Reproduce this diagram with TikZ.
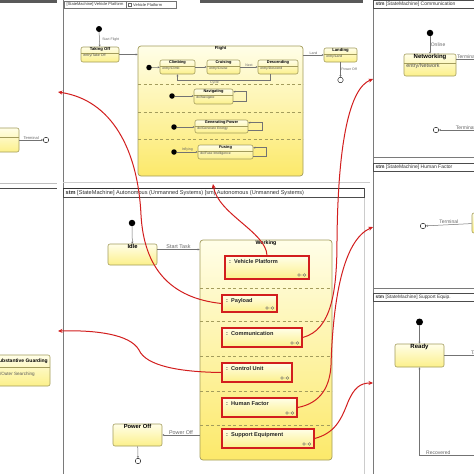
\documentclass[tikz,border=0pt]{standalone}
\usepackage{fontspec}
\setmainfont{Liberation Sans}
\usetikzlibrary{fit,arrows.meta,calc}
\definecolor{bord}{HTML}{A39C5C}
\definecolor{redl}{HTML}{D21E1E}
\definecolor{ylt}{HTML}{FFFEE8}
\definecolor{ydk}{HTML}{FCF08A}
\definecolor{ycd}{HTML}{FCE96A}
\definecolor{frm}{HTML}{7A7A7A}
\newcommand{\myfs}[1]{\fontsize{#1}{#1}\selectfont}
\def\tsz{4}\def\bsz{3.6}\def\lsz{3.5}
\tikzset{
 st/.style={draw=bord, line width=0.6pt, rounded corners=2pt, top color=ylt, bottom color=ydk, inner sep=0pt},
 comp/.style={draw=bord, line width=0.7pt, rounded corners=3pt, top color=ylt, bottom color=ycd, inner sep=0pt},
 sub/.style={draw=redl, line width=1.3pt, top color=ylt, bottom color=ydk, inner sep=0pt},
 ttl/.style={font=\myfs{\tsz}\bfseries, inner sep=0.6pt, anchor=north},
 bdy/.style={font=\myfs{\bsz}, inner sep=0.6pt, anchor=north west, text=black!70},
 subt/.style={font=\myfs{5.6}\bfseries, inner sep=0pt, text=black!85},
 lbl/.style={font=\myfs{\lsz}, inner sep=0.6pt, text=black!60},
 hdr/.style={font=\myfs{5}, inner sep=0.5pt, anchor=west, text=black!80},
 tr/.style={draw=black!55, line width=0.5pt, -{Stealth[length=2pt,width=2pt]}},
 init/.style={circle, fill=black, inner sep=0pt, minimum size=5.5pt},
 fin/.style={circle, draw=black, line width=0.4pt, fill=white, inner sep=0pt, minimum size=5.5pt,
   path picture={\fill (path picture bounding box.center) circle (1.4pt);}},
 divl/.style={draw=bord, line width=0.5pt},
 dashd/.style={draw=bord, line width=0.6pt, dash pattern=on 3pt off 2.5pt},
 redarr/.style={draw=redl, line width=1pt, -{Stealth[length=4.5pt,width=4pt]}},
}
% name, x1, y1, x2, y2, divider y, title, body
\newcommand{\twost}[8]{%
  \node[st, fit={(#2,#3) (#4,#5)}] (#1) {};
  \draw[divl] (#2,#6) -- (#4,#6);
  \node[ttl] at (#1.north) {#7};
  \node[bdy] at ({#2+1.5},#6) {#8};
}
% name, x1, y1, x2, y2, text
\newcommand{\subst}[6]{%
  \node[sub, fit={(#2,#3) (#4,#5)}] (#1) {};
  \node[subt, anchor=north west] at ({#2+4},{#3+3}) {:\ \ #6};
  \draw[black!60, line width=0.4pt] ({#4-10},{#5-4}) circle (1.4) ({#4-4.5},{#5-4}) circle (1.4)
     ({#4-8.6},{#5-4}) -- ({#4-5.9},{#5-4});
}
\begin{document}
\begin{tikzpicture}[x=1pt,y=-1pt]
\useasboundingbox (0,0) rectangle (474,474);
\fill[white] (0,0) rectangle (474,474);
\begin{scope}
\clip (0,0) rectangle (474,474);

% ---------- panel frames
\draw[frm, line width=0.9pt] (63,0) -- (63,474);
\fill[black!65] (0,0) rectangle (57,3);
\draw[black!25, line width=0.6pt] (0,183) -- (57,183);
\draw[black!70, line width=0.9pt] (0,188) -- (57,188);
\fill[black!65] (200,0) rectangle (363,2.5);
\draw[black!20, line width=0.6pt] (63,182) -- (370,182);
\draw[frm, line width=0.9pt] (373,0) -- (373,474);
\draw[frm, line width=0.8pt] (373,157) -- (474,157);
\draw[frm, line width=0.8pt] (373,288) -- (474,288);
\draw[black!20, line width=0.6pt] (364,197) -- (364,474);

% ---------- top-left panel
\def\tsz{4}\def\bsz{3.6}\def\lsz{4}
\twost{tlst}{-10}{128}{19}{152}{137}{}{}
\node[fin] (tlfin) at (46,140) {};
\draw[tr] (tlst) -- node[lbl, above]{Terminal} (tlfin);

% ---------- bottom-left panel
\def\tsz{5}\def\bsz{4.6}
\twost{blst}{-40}{355}{50}{386}{367}{}{}
\node[font=\myfs{5}\bfseries, inner sep=0pt, anchor=east] (bltitle) at (48,361) {Substantive Guarding};
\node[font=\myfs{4.6}, text=black!65, inner sep=0pt, anchor=east] (blbody) at (35,374) {do/Outer Searching};

% ---------- top-middle panel (Vehicle Platform)
\draw[black!55, fill=white, line width=0.4pt] (64,1) rectangle (126,8);
\draw[black!55, fill=white, line width=0.4pt] (126,1) rectangle (176,8);
\node[hdr, font=\myfs{4}] (tmtab1) at (66,4.6) {[StateMachine] Vehicle Platform};
\draw[black!60, line width=0.4pt] (128,2.8) rectangle (131.5,6.3);
\node[hdr, font=\myfs{4}] (tmtab2) at (132.5,4.6) {Vehicle Platform};
\def\tsz{4.2}\def\bsz{3.6}\def\lsz{3.5}
\node[init, minimum size=6pt] (tminit) at (99,29) {};
\twost{takeoff}{81}{47}{119}{62}{53}{Taking Off}{entry/Take Off}
\draw[tr] (tminit) -- node[lbl, right, xshift=2pt]{Start Flight} (takeoff);

\node[comp, fit={(138,46) (303,176)}] (flight) {};
\node[ttl] at (flight.north) {Flight};
\draw[tr] (takeoff.east) -- (takeoff.east -| flight.west);
\draw[dashd] (138,84) -- (303,84);
\draw[dashd] (138,112) -- (303,112);
\draw[dashd] (138,139) -- (303,139);

\def\tsz{3.9}\def\bsz{3.4}
\node[init] (fl1) at (149,67.5) {};
\twost{climbing}{160}{60}{195}{74}{66}{Climbing}{entry/Climb}
\twost{cruising}{207}{60}{240}{74}{66}{Cruising}{entry/Cruise}
\twost{descending}{258}{60}{298}{74}{66}{Descending}{entry/Descend}
\draw[tr] (fl1) -- (climbing);
\draw[tr] (climbing) -- (cruising);
\draw[tr] (cruising) -- node[lbl, above]{Next} (descending);
\draw[tr] ([xshift=-8pt]descending.south) -- ++(0,6) -| node[lbl, pos=0.3, below]{Cycle} (climbing.south);

\node[init] (fl2) at (172,96) {};
\twost{navigating}{194}{89}{233}{104}{95}{Navigating}{do/Navigate}
\draw[tr] (fl2) -- (fl2 -| navigating.west);
\draw[tr] ([yshift=3pt]navigating.south east) -- ++(13,0) |- ([yshift=-3pt]navigating.north east);

\node[init] (fl3) at (174,127) {};
\twost{genpower}{195}{120}{248}{133}{126}{Generating Power}{do/Generate Energy}
\draw[tr] (fl3) -- (fl3 -| genpower.west);
\draw[tr] ([yshift=3pt]genpower.south east) -- ++(14,0) |- ([yshift=-3pt]genpower.north east);

\node[init] (fl4) at (174,152) {};
\twost{fusing}{198}{145}{253}{159}{151}{Fusing}{do/Fuse Intelligence}
\draw[tr] (fl4) -- node[lbl, above]{Inflying} (fl4 -| fusing.west);
\draw[tr] ([yshift=3pt]fusing.south east) -- ++(13,0) |- ([yshift=-3pt]fusing.north east);

\def\tsz{4.2}
\twost{landing}{324}{48}{357}{62}{54}{Landing}{entry/Land}
\draw[tr] (flight.east |- landing) -- node[lbl, above]{Land} (landing);
\node[fin] (tmfin) at (340.5,80) {};
\draw[tr] (landing) -- node[lbl, right]{Power Off} (tmfin);

% ---------- bottom-middle panel (Autonomous)
\draw[black!70, fill=white, line width=0.5pt] (63,188) rectangle (364,197);
\draw[black!80, line width=1pt] (63,188) -- (364,188);
\node[hdr, font=\myfs{5.6}] (bmhdr) at (65,193) {\textbf{stm} [StateMachine] Autonomous (Unmanned Systems) [sm] Autonomous (Unmanned Systems)};
\def\tsz{5.8}\def\lsz{5.4}
\node[init, minimum size=6.5pt] (bminit) at (132,223) {};
\node[st, fit={(108,244) (157,265)}] (idle) {};
\node[ttl] at (idle.north) {Idle};
\draw[tr] (bminit) -- (idle);

\node[comp, fit={(200,240) (332,460)}] (working) {};
\node[ttl, font=\myfs{5.2}\bfseries] at (working.north) {Working};
\draw[tr] ([yshift=5pt]idle.east) -- node[lbl, above]{Start Task} ([yshift=5pt]idle.east -| working.west);
\foreach \yy in {288,321,356,391,425} \draw[dashd] (200,\yy) -- (332,\yy);

\subst{vp}{225}{256}{309}{279}{Vehicle Platform}
\subst{payload}{222}{295}{277}{312}{Payload}
\subst{comm}{222}{328}{302}{347}{Communication}
\subst{ctrl}{222}{363}{292}{382}{Control Unit}
\subst{human}{222}{398}{297}{417}{Human Factor}
\subst{support}{222}{429}{314}{448}{Support Equipment}

\node[st, fit={(113,424) (162,446)}] (poweroff) {};
\node[ttl] at (poweroff.north) {Power Off};
\draw[tr] (working.west |- poweroff) -- node[lbl, above]{Power Off} (poweroff);
\node[fin] (bmfin) at (138,461) {};
\draw[tr] (poweroff) -- (bmfin);

% ---------- right-top panel (Communication)
\draw[black!70, fill=white, line width=0.5pt] (373,0.5) rectangle (480,8.5);
\node[hdr] (rthdr) at (375,4.6) {\textbf{stm} [StateMachine] Communication};
\def\tsz{6}\def\bsz{5.4}\def\lsz{5}
\node[init, minimum size=6.5pt] (rtinit) at (430,33) {};
\twost{networking}{404}{54}{456}{76}{63}{Networking}{entry/Network}
\draw[tr] (rtinit) -- node[lbl, right]{Online} (networking);
\coordinate (rtout) at (482,59);
\draw[tr] ([yshift=6pt]networking.east) -- node[lbl, above, pos=0.4]{Terminal} (rtout);
\node[fin] (rtfin) at (436,130) {};
\coordinate (rtin) at (482,130);
\draw[tr] (rtin) -- node[lbl, above, pos=0.35]{Terminate} (rtfin);

% ---------- right-middle panel (Human Factor)
\draw[black!70, fill=white, line width=0.5pt] (373,163) rectangle (480,171);
\node[hdr] (rmhdr) at (375,167) {\textbf{stm} [StateMachine] Human Factor};
\node[fin] (rmfin) at (423,226) {};
\node[st, fit={(472,213) (495,233)}] (rmst) {};
\draw[tr] (rmst) -- node[lbl, above]{Terminal} (rmfin);

% ---------- right-bottom panel (Support Equipment)
\draw[black!70, fill=white, line width=0.5pt] (373,293) rectangle (480,301);
\node[hdr, font=\myfs{4.8}] (rbhdr) at (375,297) {\textbf{stm} [StateMachine] Support Equip.};
\node[init, minimum size=7pt] (rbinit) at (419.5,322) {};
\node[st, fit={(395,344) (444,367)}] (ready) {};
\node[ttl] at (ready.north) {Ready};
\draw[tr] (rbinit) -- (ready);
\coordinate (rbout) at (482,355.5);
\draw[tr] (ready) -- node[lbl, above, pos=0.85]{Task} (rbout);
\coordinate (rbin) at (482,455);
\draw[tr] (rbin) -| node[lbl, above, pos=0.35]{Recovered} (ready);

% ---------- red cross-reference arrows
\coordinate (a1) at (213,184);
\coordinate (a2) at (58,92);
\coordinate (a3) at (373,79);
\coordinate (a4) at (58,331);
\coordinate (a5) at (373,227);
\coordinate (a6) at (373,383);
\draw[redarr] (vp.north) .. controls (266,232) and (218,214) .. (a1);
\draw[redarr] (payload.west) .. controls (170,298) and (144,268) .. (141,215)
   .. controls (138,150) and (112,100) .. (a2);
\draw[redarr] (comm.east) .. controls (332,330) and (337,290) .. (337,240)
   .. controls (338,140) and (350,88) .. (a3);
\draw[redarr] (ctrl.west) .. controls (180,372) and (146,366) .. (139,350)
   .. controls (130,334) and (95,330) .. (a4);
\draw[redarr] (human.east) .. controls (322,403) and (330,385) .. (331,365)
   .. controls (333,300) and (343,240) .. (a5);
\draw[redarr] (support.east) .. controls (335,433) and (341,420) .. (348,402)
   .. controls (354,388) and (360,383) .. (a6);
\end{scope}
\end{tikzpicture}
\end{document}
